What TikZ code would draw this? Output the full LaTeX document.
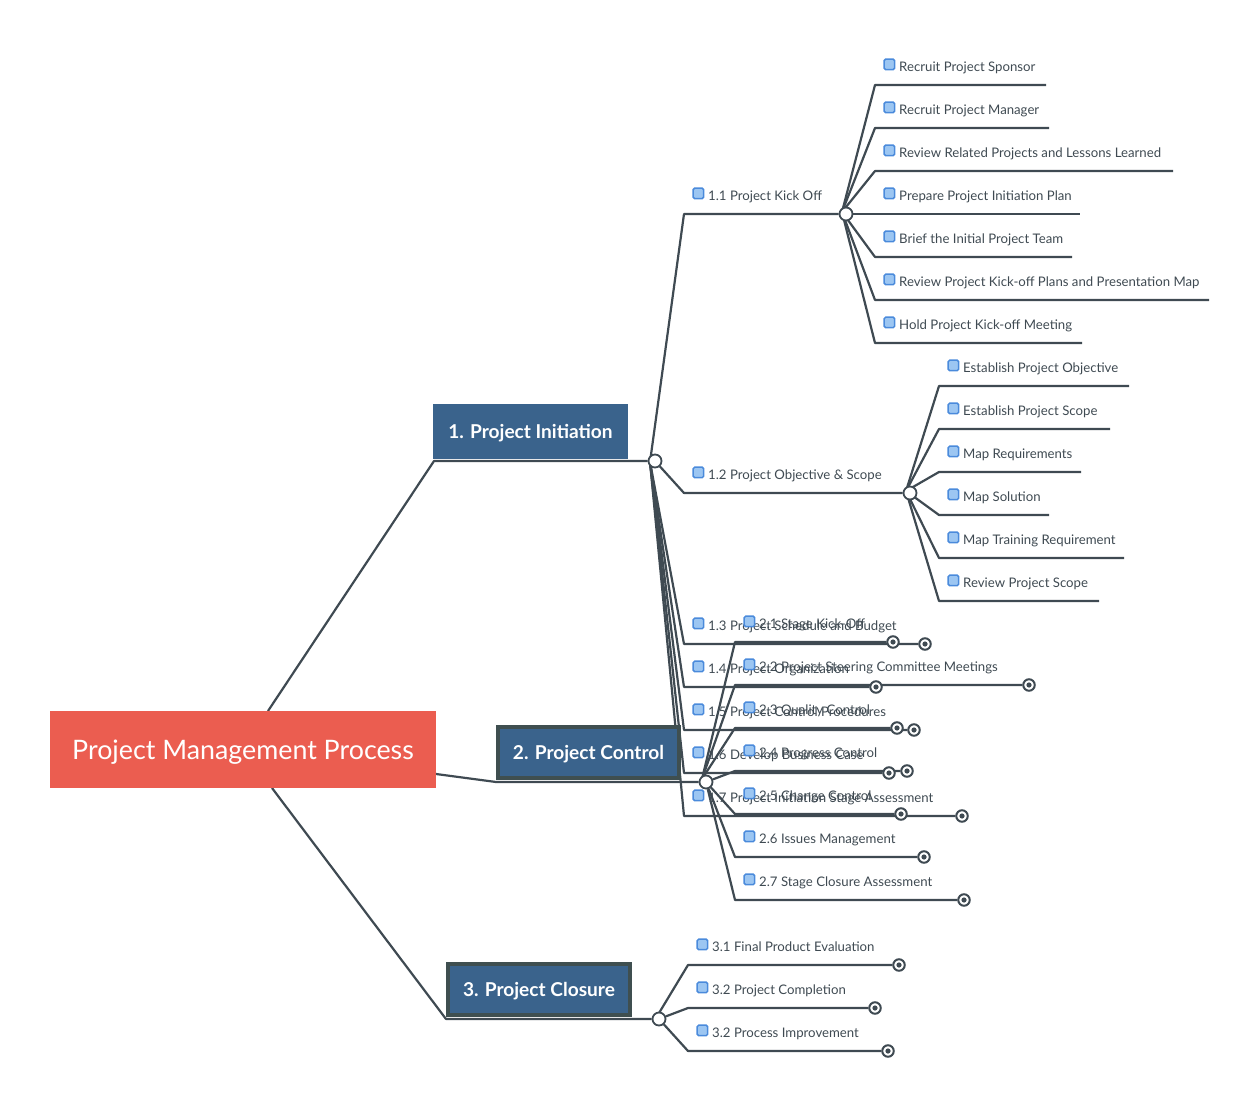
\documentclass[tikz,border=0pt]{standalone}
\usepackage{fontspec}
\setmainfont{Lato}
\usetikzlibrary{backgrounds}
\definecolor{linec}{HTML}{3F4A52}
\definecolor{rootc}{HTML}{EB5D50}
\definecolor{topicc}{HTML}{3A638C}
\definecolor{framec}{HTML}{3F4F50}
\definecolor{iconf}{HTML}{9CC6F2}
\definecolor{icond}{HTML}{4A8ADB}
\definecolor{textc}{HTML}{3F4A52}
\tikzset{
  x=1pt,y=-1pt,
  conn/.style={draw=linec,line width=2.2pt,line join=round},
  rootbox/.style={fill=rootc,text=white,inner sep=0,font=\fontsize{26.8}{30}\selectfont},
  topicbox/.style={fill=topicc,text=white,inner sep=0,font=\fontsize{19.1}{22}\selectfont\bfseries},
  framedbox/.style={topicbox,draw=framec,line width=4pt},
  hubmark/.style={circle,draw=linec,line width=1.8pt,fill=white,inner sep=0,minimum size=13pt},
  endmark/.style={circle,draw=linec,line width=2pt,fill=white,inner sep=0,minimum size=11.5pt,
    path picture={\fill[linec] (path picture bounding box.center) circle (2.6);}},
  iconbox/.style={draw=icond,fill=iconf,line width=1.5pt,rounded corners=1.5pt,inner sep=0,minimum size=10.5pt},
  leaftext/.style={anchor=base west,inner sep=0,text=textc,font=\fontsize{13.2}{15}\selectfont}
}
\newcommand\lowered[2]{\raisebox{-#1pt}[0pt][0pt]{#2}}
% label and elbow: #1 name, #2 origin, #3 elbow x, #4 y, #5 text
\newcommand\leafhead[5]{%
  \coordinate (#1e) at (#3,#4);
  \node[iconbox] (#1i) at (#3+14.4,#4-20.6) {};
  \node[leaftext] (#1t) at (#3+24,#4-13.7) {#5};
}
% plain end: #6 end x
\newcommand\leafplain[6]{%
  \leafhead{#1}{#2}{#3}{#4}{#5}
  \coordinate (#1x) at (#6,#4);
  \begin{scope}[on background layer]\draw[conn] (#2) -- (#1e) -- (#1x);\end{scope}
}
% end with marker: #6 end x
\newcommand\leafmark[6]{%
  \leafhead{#1}{#2}{#3}{#4}{#5}
  \node[endmark] (#1x) at (#6,#4) {};
  \begin{scope}[on background layer]\draw[conn] (#2) -- (#1e) -- (#1x);\end{scope}
}
\begin{document}
\begin{tikzpicture}
\useasboundingbox (0,0) rectangle (1258,1099);
% main topics
\node[rootbox,minimum width=386pt,minimum height=77pt] (root) at (243,749.5) {\lowered{9.5}{Project Management Process}};
\node[topicbox,minimum width=195pt,minimum height=55pt] (t1) at (530.5,431.5) {\lowered{6.5}{1. Project Initiation}};
\node[framedbox,minimum width=181pt,minimum height=51pt] (t2) at (588.5,752.5) {\lowered{6.5}{2. Project Control}};
\node[framedbox,minimum width=182pt,minimum height=51pt] (t3) at (539,989.5) {\lowered{6.5}{3. Project Closure}};
% hubs
\node[hubmark] (h1) at (655,461) {};
\node[hubmark] (h2) at (706,782) {};
\node[hubmark] (h3) at (659,1019) {};
\node[hubmark] (h11) at (846,214) {};
\node[hubmark] (h12) at (910,493) {};
\coordinate (h1o) at (650,462);
\coordinate (h2o) at (702,779);
\coordinate (h3o) at (656,1018);
\coordinate (h11o) at (842,212);
\coordinate (h12o) at (906,491);
% root connectors
\coordinate (r1) at (268,711);
\coordinate (c1) at (434,461);
\coordinate (r2) at (436,774);
\coordinate (c2) at (496,782);
\coordinate (r3) at (272,788);
\coordinate (c3) at (446,1019);
\begin{scope}[on background layer]
\draw[conn] (r1) -- (c1) -- (h1);
\draw[conn] (r2) -- (c2) -- (h2);
\draw[conn] (r3) -- (c3) -- (h3);
\end{scope}
% 1.1 and 1.2
\leafhead{b11}{h1o}{684}{214}{1.1 Project Kick Off}
\leafhead{b12}{h1o}{684}{493}{1.2 Project Objective \& Scope}
\begin{scope}[on background layer]
\draw[conn] (h1o) -- (b11e) -- (h11);
\draw[conn] (h1) -- (b12e) -- (h12);
\end{scope}
% leaves of 1.1
\leafplain{a1}{h11o}{875}{85}{Recruit Project Sponsor}{1046}
\leafplain{a2}{h11o}{875}{128}{Recruit Project Manager}{1049}
\leafplain{a3}{h11o}{875}{171}{Review Related Projects and Lessons Learned}{1173}
\leafplain{a4}{h11}{875}{214}{Prepare Project Initiation Plan}{1080}
\leafplain{a5}{h11o}{875}{257}{Brief the Initial Project Team}{1072}
\leafplain{a6}{h11o}{875}{300}{Review Project Kick-off Plans and Presentation Map}{1209}
\leafplain{a7}{h11o}{875}{343}{Hold Project Kick-off Meeting}{1082}
% leaves of 1.2
\leafplain{o1}{h12o}{939}{386}{Establish Project Objective}{1129}
\leafplain{o2}{h12o}{939}{429}{Establish Project Scope}{1110}
\leafplain{o3}{h12o}{939}{472}{Map Requirements}{1081}
\leafplain{o4}{h12o}{939}{515}{Map Solution}{1049}
\leafplain{o5}{h12o}{939}{558}{Map Training Requirement}{1124}
\leafplain{o6}{h12o}{939}{601}{Review Project Scope}{1099}
% 1.3 - 1.7
\leafmark{b13}{h1o}{684}{644}{1.3 Project Schedule and Budget}{925}
\leafmark{b14}{h1o}{684}{687}{1.4 Project Organization}{876}
\leafmark{b15}{h1o}{684}{730}{1.5 Project Control Procedures}{914}
\leafmark{b16}{h1o}{684}{773}{1.6 Develop Business Case}{889}
\leafmark{b17}{h1o}{684}{816}{1.7 Project Initiation Stage Assessment}{962}
% 2.x
\leafmark{c21}{h2o}{735}{642}{2.1 Stage Kick-Off}{893}
\leafmark{c22}{h2o}{735}{685}{2.2 Project Steering Committee Meetings}{1029}
\leafmark{c23}{h2o}{735}{728}{2.3 Quality Control}{897}
\leafmark{c24}{h2}{735}{771}{2.4 Progress Control}{907}
\leafmark{c25}{h2}{735}{814}{2.5 Change Control}{901}
\leafmark{c26}{h2}{735}{857}{2.6 Issues Management}{924}
\leafmark{c27}{h2}{735}{900}{2.7 Stage Closure Assessment}{964}
% 3.x
\leafmark{d31}{h3o}{688}{965}{3.1 Final Product Evaluation}{899}
\leafmark{d32}{h3}{688}{1008}{3.2 Project Completion}{875}
\leafmark{d33}{h3}{688}{1051}{3.2 Process Improvement}{888}
\end{tikzpicture}
\end{document}
